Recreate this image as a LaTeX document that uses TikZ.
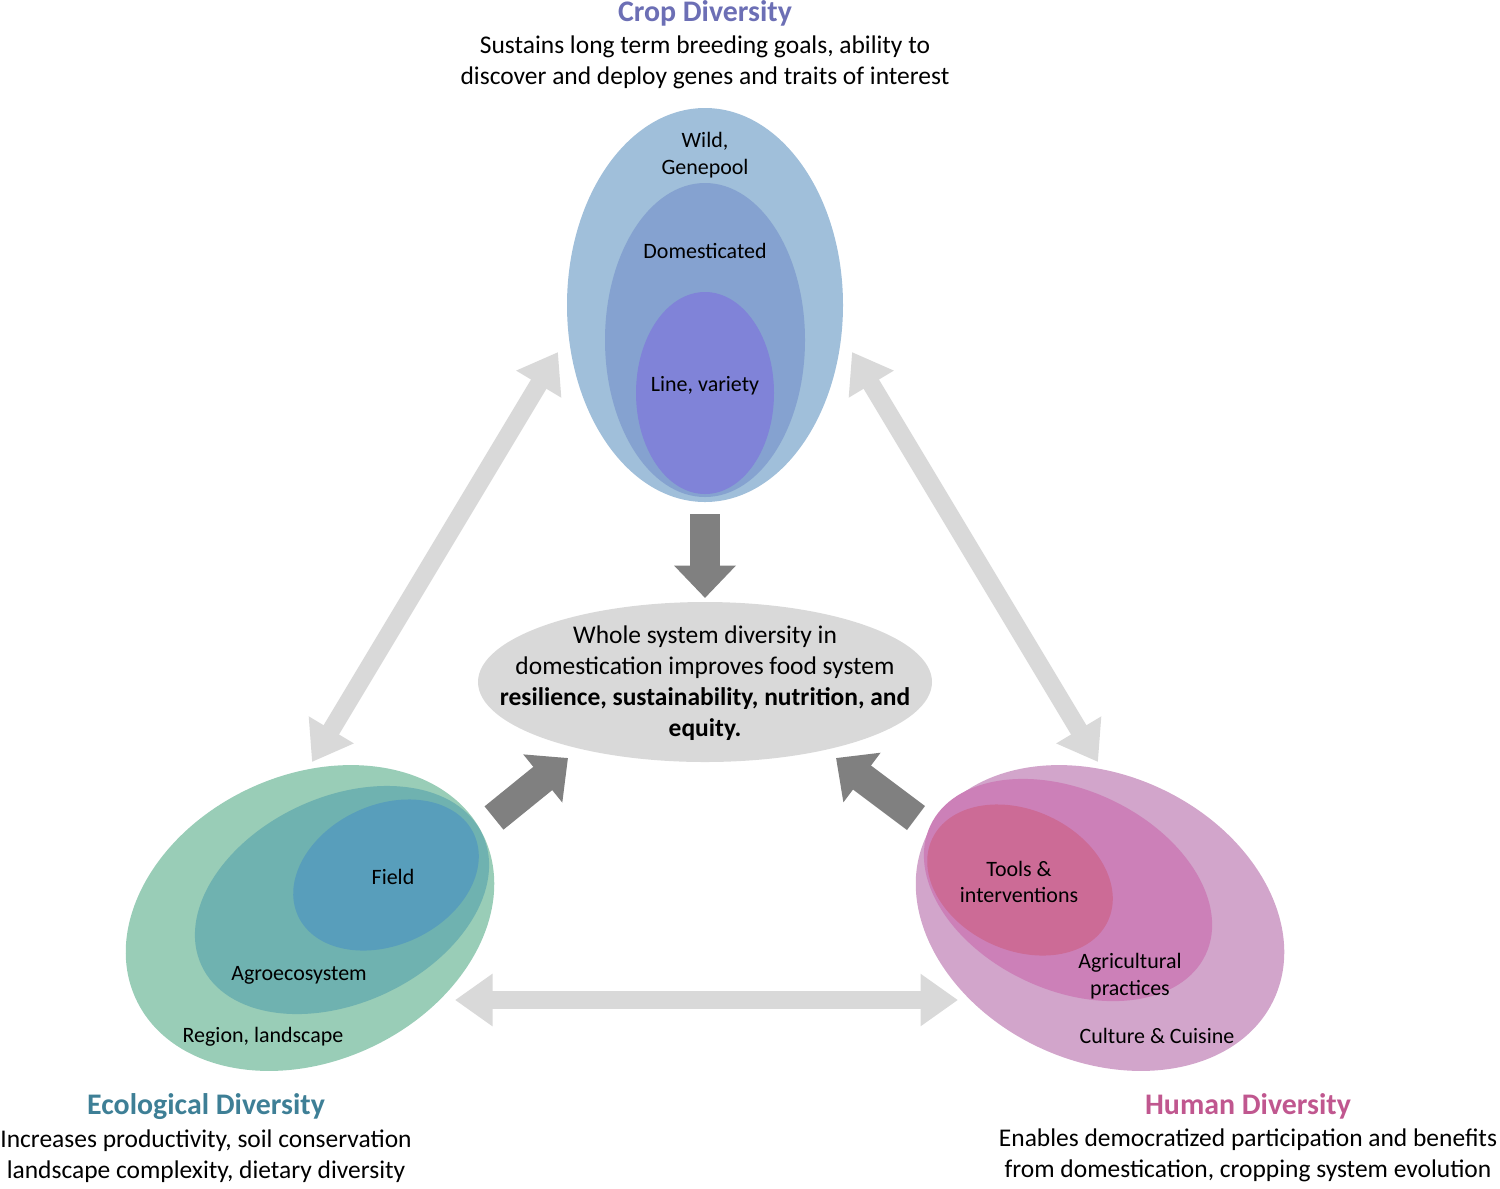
\documentclass[tikz,border=0pt]{standalone}
\usepackage{fontspec}
\setmainfont{Carlito}
\usetikzlibrary{arrows.meta}
\definecolor{cropA}{HTML}{A0BFDA}
\definecolor{cropB}{HTML}{85A2D0}
\definecolor{cropC}{HTML}{8083D8}
\definecolor{ecoA}{HTML}{99CDB7}
\definecolor{ecoB}{HTML}{6FB2B0}
\definecolor{ecoC}{HTML}{589EBB}
\definecolor{humA}{HTML}{D2A5CB}
\definecolor{humB}{HTML}{CC80B8}
\definecolor{humC}{HTML}{CC6B96}
\definecolor{cropT}{HTML}{6C6FB5}
\definecolor{ecoT}{HTML}{3E7F96}
\definecolor{humT}{HTML}{C0578F}
\tikzset{
 lab/.style={font=\fontsize{12.5}{15}\selectfont,align=center},
 txt/.style={font=\fontsize{14.5}{17.6}\selectfont,align=center},
 ttl/.style={font=\fontsize{17}{20}\selectfont\bfseries},
 link/.style={line width=0.36cm,draw=black!15,{Triangle[width=1.0cm,length=0.75cm]}-{Triangle[width=1.0cm,length=0.75cm]}},
 push/.style={line width=0.6cm,draw=black!50,-{Triangle[width=1.2cm,length=0.65cm]}}
}
\begin{document}
\begin{tikzpicture}[x=0.02cm,y=-0.02cm]
\useasboundingbox (0,0) rectangle (1500,1188);
% crop
\fill[cropA] (705,305) ellipse [x radius=138,y radius=197];
\fill[cropB] (705,340) ellipse [x radius=100,y radius=157];
\fill[cropC] (705,393) ellipse [x radius=69,y radius=101];
\node[lab] (wild) at (705,155) {Wild,\\Genepool};
\node[lab] (dom) at (705,251) {Domesticated};
\node[lab] (line) at (705,386) {Line, variety};
\node[ttl,text=cropT] (cropt) at (705,13) {Crop Diversity};
\node[txt] (cropd) at (705,62) {Sustains long term breeding goals, ability to\\discover and deploy genes and traits of interest};
% center
\fill[black!15] (705,682) ellipse [x radius=227,y radius=80];
\node[txt] (whole) at (705,683) {Whole system diversity in\\domestication improves food system\\\textbf{resilience, sustainability, nutrition, and}\\\textbf{equity.}};
% ecological
\fill[ecoA,rotate around={25:(310,918)}] (310,918) ellipse [x radius=192,y radius=143];
\fill[ecoB,rotate around={25:(342,900)}] (342,900) ellipse [x radius=155,y radius=103];
\fill[ecoC,rotate around={25:(386,875)}] (386,875) ellipse [x radius=97,y radius=70];
\node[lab] (field) at (393,877) {Field};
\node[lab] (agro) at (299,975) {Agroecosystem};
\node[lab] (region) at (263,1037) {Region, landscape};
\node[ttl,text=ecoT] (ecot) at (206,1107) {Ecological Diversity};
\node[txt] (ecod) at (206,1156) {Increases productivity, soil conservation\\landscape complexity, dietary diversity};
% human
\fill[humA,rotate around={-25:(1100,918)}] (1100,918) ellipse [x radius=192,y radius=143];
\fill[humB,rotate around={-25:(1068,890)}] (1068,890) ellipse [x radius=152,y radius=100];
\fill[humC,rotate around={-25:(1020,880)}] (1020,880) ellipse [x radius=97,y radius=70];
\node[lab] (tools) at (1019,882) {Tools \&\\interventions};
\node[lab] (agri) at (1130,976) {Agricultural\\practices};
\node[lab] (cult) at (1157,1036) {Culture \& Cuisine};
\node[ttl,text=humT] (humt) at (1248,1106) {Human Diversity};
\node[txt] (humd) at (1248,1155) {Enables democratized participation and benefits\\from domestication, cropping system evolution};
% links
\coordinate (cl) at (558,352); \coordinate (el) at (312,762);
\coordinate (cr) at (852,352); \coordinate (hr) at (1098,762);
\coordinate (eb) at (455,1000); \coordinate (hb) at (958,1000);
\draw[link] (cl) -- (el);
\draw[link] (cr) -- (hr);
\draw[link] (eb) -- (hb);
% push arrows
\coordinate (p1) at (705,514); \coordinate (q1) at (705,598);
\coordinate (p2) at (494,818); \coordinate (q2) at (568,758);
\coordinate (p3) at (916,818); \coordinate (q3) at (836,758);
\draw[push] (p1) -- (q1);
\draw[push] (p2) -- (q2);
\draw[push] (p3) -- (q3);
\end{tikzpicture}
\end{document}
